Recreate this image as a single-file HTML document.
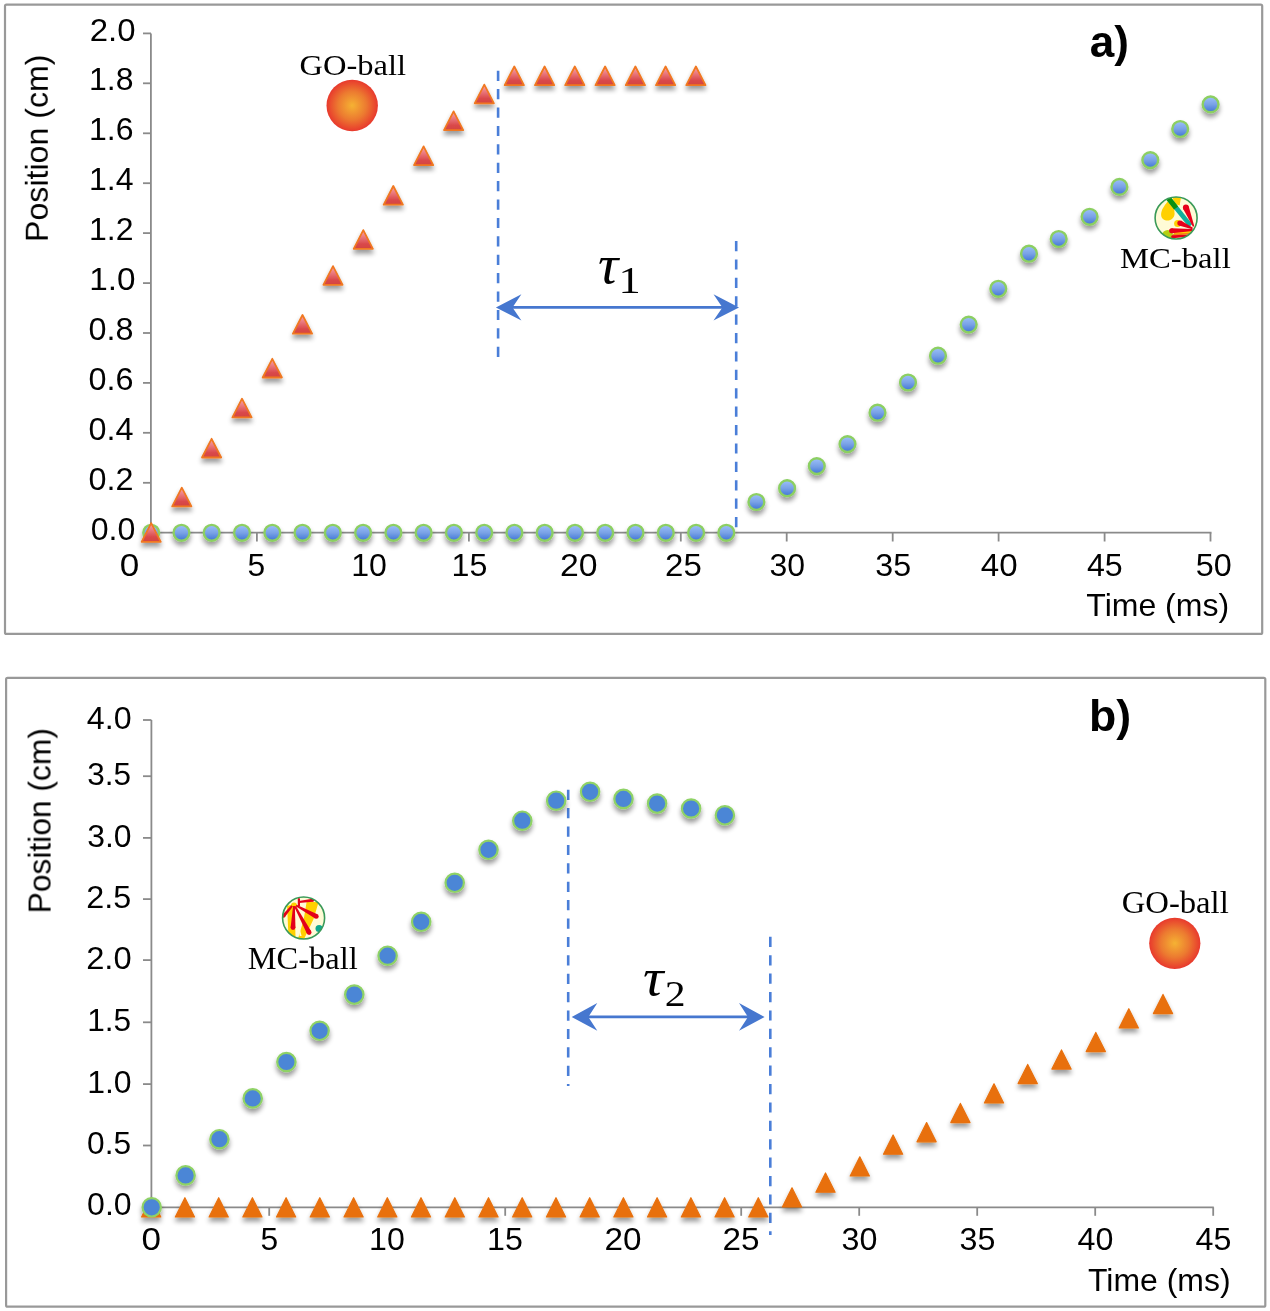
<!DOCTYPE html>
<html><head><meta charset="utf-8"><style>
html,body{margin:0;padding:0;background:#fff;}
body{width:1270px;height:1311px;overflow:hidden;}
svg{display:block;}
.sans{font-family:"Liberation Sans",sans-serif;}
.serif{font-family:"Liberation Serif",serif;}
</style></head><body>
<svg width="1270" height="1311" viewBox="0 0 1270 1311">
<defs>
<linearGradient id="triA" x1="0" y1="0" x2="0" y2="1">
<stop offset="0.15" stop-color="#f4949c"/><stop offset="0.75" stop-color="#d9484a"/><stop offset="1" stop-color="#d4443f"/>
</linearGradient>
<linearGradient id="cirA" x1="0" y1="0" x2="0" y2="1">
<stop offset="0" stop-color="#9dc0fb"/><stop offset="0.5" stop-color="#79a2e6"/><stop offset="1" stop-color="#3f74d6"/>
</linearGradient>
<radialGradient id="goball" cx="0.5" cy="0.5" r="0.5">
<stop offset="0" stop-color="#f5b233"/><stop offset="0.55" stop-color="#ec7a30"/><stop offset="1" stop-color="#e8392d"/>
</radialGradient>
<filter id="sh" x="-50%" y="-50%" width="200%" height="220%">
<feGaussianBlur in="SourceAlpha" stdDeviation="2.6"/>
<feOffset dx="0" dy="4" result="b"/>
<feComponentTransfer><feFuncA type="linear" slope="0.4"/></feComponentTransfer>
<feMerge><feMergeNode/><feMergeNode in="SourceGraphic"/></feMerge>
</filter>
<clipPath id="mcc"><circle cx="26" cy="26" r="21"/></clipPath>
</defs>
<rect width="1270" height="1311" fill="#fff"/>

<rect x="5" y="4.6" width="1257.2" height="629.3" rx="1.5" fill="none" stroke="#999" stroke-width="2.2"/>
<rect x="6.1" y="677.8" width="1259.2" height="628.9" rx="1.5" fill="none" stroke="#999" stroke-width="2.2"/>
<g stroke="#8a8a8a" stroke-width="1.8" fill="none">
<line x1="150.9" y1="33.4" x2="150.9" y2="533.4"/>
<line x1="143" y1="33.4" x2="151" y2="33.4"/>
<line x1="143" y1="83.3" x2="151" y2="83.3"/>
<line x1="143" y1="133.3" x2="151" y2="133.3"/>
<line x1="143" y1="183.2" x2="151" y2="183.2"/>
<line x1="143" y1="233.1" x2="151" y2="233.1"/>
<line x1="143" y1="283.1" x2="151" y2="283.1"/>
<line x1="143" y1="333.0" x2="151" y2="333.0"/>
<line x1="143" y1="382.9" x2="151" y2="382.9"/>
<line x1="143" y1="432.8" x2="151" y2="432.8"/>
<line x1="143" y1="482.8" x2="151" y2="482.8"/>
<line x1="143" y1="532.7" x2="151" y2="532.7"/>
<line x1="150" y1="532.7" x2="1211.5" y2="532.7"/>
<line x1="256.9" y1="532.7" x2="256.9" y2="541.5"/>
<line x1="362.9" y1="532.7" x2="362.9" y2="541.5"/>
<line x1="468.9" y1="532.7" x2="468.9" y2="541.5"/>
<line x1="574.8" y1="532.7" x2="574.8" y2="541.5"/>
<line x1="680.8" y1="532.7" x2="680.8" y2="541.5"/>
<line x1="786.7" y1="532.7" x2="786.7" y2="541.5"/>
<line x1="892.7" y1="532.7" x2="892.7" y2="541.5"/>
<line x1="998.6" y1="532.7" x2="998.6" y2="541.5"/>
<line x1="1104.6" y1="532.7" x2="1104.6" y2="541.5"/>
<line x1="1210.5" y1="532.7" x2="1210.5" y2="541.5"/>
</g>
<g stroke="#8a8a8a" stroke-width="1.8" fill="none">
<line x1="151.4" y1="720" x2="151.4" y2="1207.2"/>
<line x1="143" y1="720.0" x2="151.4" y2="720.0"/>
<line x1="143" y1="776.2" x2="151.4" y2="776.2"/>
<line x1="143" y1="837.9" x2="151.4" y2="837.9"/>
<line x1="143" y1="899.1" x2="151.4" y2="899.1"/>
<line x1="143" y1="960.1" x2="151.4" y2="960.1"/>
<line x1="143" y1="1022.3" x2="151.4" y2="1022.3"/>
<line x1="143" y1="1084.1" x2="151.4" y2="1084.1"/>
<line x1="143" y1="1145.5" x2="151.4" y2="1145.5"/>
<line x1="143" y1="1207.0" x2="151.4" y2="1207.0"/>
<line x1="150.6" y1="1207.3" x2="1213.8" y2="1207.3"/>
<line x1="269.2" y1="1207.3" x2="269.2" y2="1215.8"/>
<line x1="387.2" y1="1207.3" x2="387.2" y2="1215.8"/>
<line x1="505.2" y1="1207.3" x2="505.2" y2="1215.8"/>
<line x1="623.2" y1="1207.3" x2="623.2" y2="1215.8"/>
<line x1="741.2" y1="1207.3" x2="741.2" y2="1215.8"/>
<line x1="859.2" y1="1207.3" x2="859.2" y2="1215.8"/>
<line x1="977.2" y1="1207.3" x2="977.2" y2="1215.8"/>
<line x1="1095.2" y1="1207.3" x2="1095.2" y2="1215.8"/>
<line x1="1213.2" y1="1207.3" x2="1213.2" y2="1215.8"/>
</g>
<g style="opacity:0.999">
<text class="sans" transform="matrix(1.0625,0,0,0.9818,89.67,40.50)" style="font-size:31px;">2.0</text>
<text class="sans" transform="matrix(1.0325,0,0,0.9818,89.03,90.43)" style="font-size:31px;">1.8</text>
<text class="sans" transform="matrix(1.0325,0,0,0.9818,89.03,140.36)" style="font-size:31px;">1.6</text>
<text class="sans" transform="matrix(1.0325,0,0,0.9818,89.03,190.29)" style="font-size:31px;">1.4</text>
<text class="sans" transform="matrix(1.0325,0,0,0.9818,89.03,240.22)" style="font-size:31px;">1.2</text>
<text class="sans" transform="matrix(1.0750,0,0,0.9818,89.15,290.15)" style="font-size:31px;">1.0</text>
<text class="sans" transform="matrix(1.0439,0,0,0.9818,88.56,340.08)" style="font-size:31px;">0.8</text>
<text class="sans" transform="matrix(1.0439,0,0,0.9818,88.56,390.01)" style="font-size:31px;">0.6</text>
<text class="sans" transform="matrix(1.0439,0,0,0.9818,88.56,439.94)" style="font-size:31px;">0.4</text>
<text class="sans" transform="matrix(1.0439,0,0,0.9818,88.56,489.87)" style="font-size:31px;">0.2</text>
<text class="sans" transform="matrix(1.0366,0,0,0.9818,90.76,539.80)" style="font-size:31px;">0.0</text>
<text class="sans" transform="matrix(1.1333,0,0,1.0000,119.87,575.90)" style="font-size:31px;">0</text>
<text class="sans" transform="matrix(1.0267,0,0,1.0000,247.57,575.90)" style="font-size:31px;">5</text>
<text class="sans" transform="matrix(1.0355,0,0,1.0000,351.23,575.90)" style="font-size:31px;">10</text>
<text class="sans" transform="matrix(1.0387,0,0,1.0000,451.52,575.90)" style="font-size:31px;">15</text>
<text class="sans" transform="matrix(1.0903,0,0,1.0000,559.92,575.90)" style="font-size:31px;">20</text>
<text class="sans" transform="matrix(1.0645,0,0,1.0000,665.07,575.90)" style="font-size:31px;">25</text>
<text class="sans" transform="matrix(1.0312,0,0,1.0000,769.47,575.90)" style="font-size:31px;">30</text>
<text class="sans" transform="matrix(1.0406,0,0,1.0000,875.36,575.90)" style="font-size:31px;">35</text>
<text class="sans" transform="matrix(1.0688,0,0,1.0000,980.73,575.90)" style="font-size:31px;">40</text>
<text class="sans" transform="matrix(1.0375,0,0,1.0000,1086.96,575.90)" style="font-size:31px;">45</text>
<text class="sans" transform="matrix(1.0437,0,0,1.0000,1195.86,575.90)" style="font-size:31px;">50</text>
<text class="sans" transform="matrix(1.0331,0,0,1.0033,1086.27,615.68)" style="font-size:31px;">Time (ms)</text>
<text class="sans" transform="translate(48.28,242.01) rotate(-90) scale(1.0369,1.0167)" style="font-size:31px;">Position (cm)</text>
<text class="sans" transform="matrix(0.9579,0,0,0.9568,1089.64,56.53)" style="font-size:46px;font-weight:bold">a)</text>
<text class="serif" transform="matrix(1.0324,0,0,0.9565,299.57,74.80)" style="font-size:31.5px;">GO-ball</text>
<text class="serif" transform="matrix(1.0381,0,0,0.9478,1119.96,268.00)" style="font-size:31.5px;">MC-ball</text>
<text class="serif" transform="matrix(1.0500,0,0,1.0192,597.95,282.98)" style="font-size:54px;font-style:italic">&#964;</text>
<text class="serif" transform="matrix(1.2000,0,0,1.0120,618.40,292.70)" style="font-size:37px;">1</text>
<text class="sans" transform="matrix(1.0390,0,0,1.0409,86.86,728.60)" style="font-size:31px;">4.0</text>
<text class="sans" transform="matrix(1.0171,0,0,1.0409,87.28,784.80)" style="font-size:31px;">3.5</text>
<text class="sans" transform="matrix(1.0293,0,0,1.0409,87.27,846.50)" style="font-size:31px;">3.0</text>
<text class="sans" transform="matrix(1.0425,0,0,1.0409,86.22,907.70)" style="font-size:31px;">2.5</text>
<text class="sans" transform="matrix(1.0550,0,0,1.0409,86.19,968.70)" style="font-size:31px;">2.0</text>
<text class="sans" transform="matrix(1.0200,0,0,1.0409,87.16,1030.90)" style="font-size:31px;">1.5</text>
<text class="sans" transform="matrix(1.0325,0,0,1.0409,87.14,1092.70)" style="font-size:31px;">1.0</text>
<text class="sans" transform="matrix(1.0220,0,0,1.0409,87.08,1154.10)" style="font-size:31px;">0.5</text>
<text class="sans" transform="matrix(1.0341,0,0,1.0409,87.07,1215.20)" style="font-size:31px;">0.0</text>
<text class="sans" transform="matrix(1.1333,0,0,1.0000,141.57,1250.00)" style="font-size:31px;">0</text>
<text class="sans" transform="matrix(1.0267,0,0,1.0000,260.47,1250.00)" style="font-size:31px;">5</text>
<text class="sans" transform="matrix(1.0355,0,0,1.0000,369.08,1250.00)" style="font-size:31px;">10</text>
<text class="sans" transform="matrix(1.0387,0,0,1.0000,487.02,1250.00)" style="font-size:31px;">15</text>
<text class="sans" transform="matrix(1.0742,0,0,1.0000,604.40,1250.00)" style="font-size:31px;">20</text>
<text class="sans" transform="matrix(1.0742,0,0,1.0000,722.40,1250.00)" style="font-size:31px;">25</text>
<text class="sans" transform="matrix(1.0406,0,0,1.0000,841.51,1250.00)" style="font-size:31px;">30</text>
<text class="sans" transform="matrix(1.0406,0,0,1.0000,959.51,1250.00)" style="font-size:31px;">35</text>
<text class="sans" transform="matrix(1.0406,0,0,1.0000,1077.51,1250.00)" style="font-size:31px;">40</text>
<text class="sans" transform="matrix(1.0406,0,0,1.0000,1195.51,1250.00)" style="font-size:31px;">45</text>
<text class="sans" transform="matrix(1.0316,0,0,0.9833,1087.97,1290.62)" style="font-size:31px;">Time (ms)</text>
<text class="sans" transform="translate(50.68,913.37) rotate(-90) scale(1.0244,1.0033)" style="font-size:31px;">Position (cm)</text>
<text class="sans" transform="matrix(0.9711,0,0,0.9773,1089.09,731.43)" style="font-size:46px;font-weight:bold">b)</text>
<text class="serif" transform="matrix(1.0382,0,0,1.0130,1121.66,913.50)" style="font-size:31.5px;">GO-ball</text>
<text class="serif" transform="matrix(1.0305,0,0,0.9696,247.77,969.30)" style="font-size:31.5px;">MC-ball</text>
<text class="serif" transform="matrix(1.0600,0,0,0.9846,642.94,994.82)" style="font-size:54px;font-style:italic">&#964;</text>
<text class="serif" transform="matrix(1.1267,0,0,0.9840,664.75,1005.60)" style="font-size:37px;">2</text>
</g>
<line x1="498.1" y1="70.7" x2="498.1" y2="363.5" stroke="#4a7ed8" stroke-width="2.6" stroke-dasharray="10.2 8.2"/>
<line x1="736.2" y1="241" x2="736.2" y2="533" stroke="#4a7ed8" stroke-width="2.6" stroke-dasharray="10.2 8.2"/>
<line x1="568.2" y1="789.7" x2="568.2" y2="1086" stroke="#4a7ed8" stroke-width="2.6" stroke-dasharray="10.2 8.2"/>
<line x1="770.3" y1="936.8" x2="770.3" y2="1235" stroke="#4a7ed8" stroke-width="2.6" stroke-dasharray="10.2 8.2"/>
<line x1="507.9" y1="307.4" x2="727" y2="307.4" stroke="#4677cf" stroke-width="2.8"/>
<path d="M495.9,307.4 L521.4,294.29999999999995 L512.475,307.4 L521.4,320.5 Z" fill="#4677cf"/>
<path d="M739,307.4 L713.5,294.29999999999995 L722.425,307.4 L713.5,320.5 Z" fill="#4677cf"/>
<line x1="583.7" y1="1016.9" x2="752.6" y2="1016.9" stroke="#4677cf" stroke-width="2.8"/>
<path d="M571.7,1016.9 L597.3000000000001,1003.1 L588.34,1016.9 L597.3000000000001,1030.7 Z" fill="#4677cf"/>
<path d="M764.6,1016.9 L739.0,1003.1 L747.96,1016.9 L739.0,1030.7 Z" fill="#4677cf"/>
<circle cx="352.2" cy="105.5" r="25.7" fill="url(#goball)"/>
<circle cx="1174.8" cy="943.3" r="25.6" fill="url(#goball)"/>
<g transform="translate(1150.10,192.00)">
<circle cx="26" cy="26" r="21" fill="#fffbd6"/>
<g clip-path="url(#mcc)">
<path d="M17.5,9.5 C14,14 11,18 11,22.5 C11,26.5 14,28.5 17.5,28.5 C21,28.5 24,26 24.5,22 L24,16 Z" fill="#ffd000"/>
<path d="M22,5 L31,5 L29.5,13.5 L25,12 Z" fill="#ffd000"/>
<circle cx="17.5" cy="43.5" r="5.5" fill="#b5cf12"/>
<path d="M16.5,8 L20.5,5 L42,32 L39,35.5 Z" fill="#12ae9c"/>
<path d="M16.5,8 L20.5,5 L28,14.5 L24,17.5 Z" fill="#0a9010"/>
<path d="M44.20,34.22 L38.58,14.37 L33.02,16.63 L42.80,34.78 Z" fill="#e8001a"/>
<circle cx="35.80" cy="15.50" r="3.00" fill="#e8001a"/>
<circle cx="27.5" cy="31.5" r="3.5" fill="#ffd000"/>
<path d="M42.80,35.81 L30.83,28.61 L28.77,33.39 L42.20,37.19 Z" fill="#e8001a"/>
<circle cx="29.80" cy="31.00" r="2.60" fill="#e8001a"/>
<path d="M42,37 L24,40 L24,43 L40,41.5 Z" fill="#ffd000"/>
<path d="M42.46,37.00 L21.40,36.30 L21.60,41.30 L42.54,39.00 Z" fill="#e8001a"/>
<circle cx="21.50" cy="38.80" r="2.50" fill="#e8001a"/>
<path d="M40.96,40.75 L23.94,41.40 L24.06,43.60 L41.04,42.25 Z" fill="#f08a10"/>
<circle cx="24.00" cy="42.50" r="1.10" fill="#f08a10"/>
<path d="M39.93,42.50 L22.39,43.30 L22.61,46.30 L40.07,44.50 Z" fill="#e8001a"/>
<circle cx="22.50" cy="44.80" r="1.50" fill="#e8001a"/>
<path d="M36,32 L42.5,36 L40,34.5 Z" fill="#202020"/>
</g>
<circle cx="26" cy="26" r="21" fill="none" stroke="#3a9a58" stroke-width="1.6"/>
</g>
<g transform="translate(277.6,892)">
<circle cx="26" cy="26" r="21" fill="#fffbd6"/>
<g clip-path="url(#mcc)">
<path d="M29,10 L41,10 L36,27 L26,48 L20,48 L26,28 Z" fill="#ffd000"/>
<path d="M9.5,14 L17,12 L18,48 L11,48 Z" fill="#ffd000"/>
<circle cx="16.4" cy="13.5" r="3" fill="#ffd000"/>
<path d="M19,25 L22,44 L24,44 Z" fill="#fffbd6"/>
<path d="M15.50,13.96 L13.00,35.49 L17.80,35.71 L17.30,14.04 Z" fill="#e3001a"/>
<circle cx="15.40" cy="35.60" r="2.40" fill="#e3001a"/>
<path d="M16.71,14.93 L29.39,41.64 L33.61,39.36 L18.29,14.07 Z" fill="#e3001a"/>
<circle cx="31.50" cy="40.50" r="2.40" fill="#e3001a"/>
<path d="M18.07,14.29 L37.56,26.51 L39.84,22.29 L18.93,12.71 Z" fill="#e3001a"/>
<circle cx="38.70" cy="24.40" r="2.40" fill="#e3001a"/>
<path d="M22.40,14.00 L22.40,7.00 L20.20,7.00 L20.20,14.00 Z" fill="#e3001a"/>
<circle cx="21.30" cy="7.00" r="1.10" fill="#e3001a"/>
<path d="M21.43,10.99 L35.20,9.69 L34.80,6.71 L21.17,9.01 Z" fill="#e3001a"/>
<circle cx="35.00" cy="8.20" r="1.50" fill="#e3001a"/>
<path d="M13.73,13.16 L4.66,22.88 L7.34,25.12 L15.27,14.44 Z" fill="#e3001a"/>
<circle cx="6.00" cy="24.00" r="1.75" fill="#e3001a"/>
<circle cx="41.5" cy="36.5" r="3.6" fill="#10a890"/>
</g>
<circle cx="26" cy="26" r="21" fill="none" stroke="#3a9a58" stroke-width="1.6"/>
</g>
<g filter="url(#sh)">
<circle cx="151.2" cy="532.8" r="7.9" fill="url(#cirA)" stroke="#8ccf62" stroke-width="2.4"/>
<circle cx="181.5" cy="532.8" r="7.9" fill="url(#cirA)" stroke="#8ccf62" stroke-width="2.4"/>
<circle cx="211.7" cy="532.8" r="7.9" fill="url(#cirA)" stroke="#8ccf62" stroke-width="2.4"/>
<circle cx="242.0" cy="532.8" r="7.9" fill="url(#cirA)" stroke="#8ccf62" stroke-width="2.4"/>
<circle cx="272.3" cy="532.8" r="7.9" fill="url(#cirA)" stroke="#8ccf62" stroke-width="2.4"/>
<circle cx="302.5" cy="532.8" r="7.9" fill="url(#cirA)" stroke="#8ccf62" stroke-width="2.4"/>
<circle cx="332.8" cy="532.8" r="7.9" fill="url(#cirA)" stroke="#8ccf62" stroke-width="2.4"/>
<circle cx="363.1" cy="532.8" r="7.9" fill="url(#cirA)" stroke="#8ccf62" stroke-width="2.4"/>
<circle cx="393.4" cy="532.8" r="7.9" fill="url(#cirA)" stroke="#8ccf62" stroke-width="2.4"/>
<circle cx="423.6" cy="532.8" r="7.9" fill="url(#cirA)" stroke="#8ccf62" stroke-width="2.4"/>
<circle cx="453.9" cy="532.8" r="7.9" fill="url(#cirA)" stroke="#8ccf62" stroke-width="2.4"/>
<circle cx="484.2" cy="532.8" r="7.9" fill="url(#cirA)" stroke="#8ccf62" stroke-width="2.4"/>
<circle cx="514.4" cy="532.8" r="7.9" fill="url(#cirA)" stroke="#8ccf62" stroke-width="2.4"/>
<circle cx="544.7" cy="532.8" r="7.9" fill="url(#cirA)" stroke="#8ccf62" stroke-width="2.4"/>
<circle cx="575.0" cy="532.8" r="7.9" fill="url(#cirA)" stroke="#8ccf62" stroke-width="2.4"/>
<circle cx="605.2" cy="532.8" r="7.9" fill="url(#cirA)" stroke="#8ccf62" stroke-width="2.4"/>
<circle cx="635.5" cy="532.8" r="7.9" fill="url(#cirA)" stroke="#8ccf62" stroke-width="2.4"/>
<circle cx="665.8" cy="532.8" r="7.9" fill="url(#cirA)" stroke="#8ccf62" stroke-width="2.4"/>
<circle cx="696.1" cy="532.8" r="7.9" fill="url(#cirA)" stroke="#8ccf62" stroke-width="2.4"/>
<circle cx="726.3" cy="532.8" r="7.9" fill="url(#cirA)" stroke="#8ccf62" stroke-width="2.4"/>
<circle cx="756.4" cy="502.0" r="7.9" fill="url(#cirA)" stroke="#8ccf62" stroke-width="2.4"/>
<circle cx="787.1" cy="488.2" r="7.9" fill="url(#cirA)" stroke="#8ccf62" stroke-width="2.4"/>
<circle cx="816.8" cy="466.1" r="7.9" fill="url(#cirA)" stroke="#8ccf62" stroke-width="2.4"/>
<circle cx="847.5" cy="444.1" r="7.9" fill="url(#cirA)" stroke="#8ccf62" stroke-width="2.4"/>
<circle cx="877.5" cy="412.7" r="7.9" fill="url(#cirA)" stroke="#8ccf62" stroke-width="2.4"/>
<circle cx="908.0" cy="382.5" r="7.9" fill="url(#cirA)" stroke="#8ccf62" stroke-width="2.4"/>
<circle cx="938.0" cy="355.7" r="7.9" fill="url(#cirA)" stroke="#8ccf62" stroke-width="2.4"/>
<circle cx="968.7" cy="324.6" r="7.9" fill="url(#cirA)" stroke="#8ccf62" stroke-width="2.4"/>
<circle cx="998.3" cy="288.8" r="7.9" fill="url(#cirA)" stroke="#8ccf62" stroke-width="2.4"/>
<circle cx="1029.0" cy="253.7" r="7.9" fill="url(#cirA)" stroke="#8ccf62" stroke-width="2.4"/>
<circle cx="1058.7" cy="239.0" r="7.9" fill="url(#cirA)" stroke="#8ccf62" stroke-width="2.4"/>
<circle cx="1089.6" cy="216.8" r="7.9" fill="url(#cirA)" stroke="#8ccf62" stroke-width="2.4"/>
<circle cx="1119.4" cy="186.9" r="7.9" fill="url(#cirA)" stroke="#8ccf62" stroke-width="2.4"/>
<circle cx="1150.3" cy="160.1" r="7.9" fill="url(#cirA)" stroke="#8ccf62" stroke-width="2.4"/>
<circle cx="1180.2" cy="129.0" r="7.9" fill="url(#cirA)" stroke="#8ccf62" stroke-width="2.4"/>
<circle cx="1210.6" cy="104.4" r="7.9" fill="url(#cirA)" stroke="#8ccf62" stroke-width="2.4"/>
<path d="M151.2,523.1 L160.8,541.8 L141.6,541.8 Z" fill="url(#triA)" stroke="#f07820" stroke-width="1.8" stroke-linejoin="round"/>
<path d="M181.8,487.7 L191.4,506.4 L172.2,506.4 Z" fill="url(#triA)" stroke="#f07820" stroke-width="1.8" stroke-linejoin="round"/>
<path d="M211.6,438.8 L221.2,457.5 L202.0,457.5 Z" fill="url(#triA)" stroke="#f07820" stroke-width="1.8" stroke-linejoin="round"/>
<path d="M242.0,398.7 L251.6,417.4 L232.4,417.4 Z" fill="url(#triA)" stroke="#f07820" stroke-width="1.8" stroke-linejoin="round"/>
<path d="M272.3,358.8 L281.9,377.5 L262.7,377.5 Z" fill="url(#triA)" stroke="#f07820" stroke-width="1.8" stroke-linejoin="round"/>
<path d="M302.5,315.0 L312.1,333.7 L292.9,333.7 Z" fill="url(#triA)" stroke="#f07820" stroke-width="1.8" stroke-linejoin="round"/>
<path d="M333.0,266.1 L342.6,284.8 L323.4,284.8 Z" fill="url(#triA)" stroke="#f07820" stroke-width="1.8" stroke-linejoin="round"/>
<path d="M363.3,230.1 L372.9,248.8 L353.7,248.8 Z" fill="url(#triA)" stroke="#f07820" stroke-width="1.8" stroke-linejoin="round"/>
<path d="M393.3,186.0 L402.9,204.7 L383.7,204.7 Z" fill="url(#triA)" stroke="#f07820" stroke-width="1.8" stroke-linejoin="round"/>
<path d="M423.6,146.4 L433.2,165.1 L414.0,165.1 Z" fill="url(#triA)" stroke="#f07820" stroke-width="1.8" stroke-linejoin="round"/>
<path d="M453.6,111.4 L463.2,130.1 L444.0,130.1 Z" fill="url(#triA)" stroke="#f07820" stroke-width="1.8" stroke-linejoin="round"/>
<path d="M484.3,84.6 L493.9,103.3 L474.7,103.3 Z" fill="url(#triA)" stroke="#f07820" stroke-width="1.8" stroke-linejoin="round"/>
<path d="M514.3,66.5 L523.9,85.2 L504.7,85.2 Z" fill="url(#triA)" stroke="#f07820" stroke-width="1.8" stroke-linejoin="round"/>
<path d="M544.6,66.5 L554.2,85.2 L535.0,85.2 Z" fill="url(#triA)" stroke="#f07820" stroke-width="1.8" stroke-linejoin="round"/>
<path d="M574.8,66.5 L584.4,85.2 L565.2,85.2 Z" fill="url(#triA)" stroke="#f07820" stroke-width="1.8" stroke-linejoin="round"/>
<path d="M605.1,66.5 L614.7,85.2 L595.5,85.2 Z" fill="url(#triA)" stroke="#f07820" stroke-width="1.8" stroke-linejoin="round"/>
<path d="M635.4,66.5 L645.0,85.2 L625.8,85.2 Z" fill="url(#triA)" stroke="#f07820" stroke-width="1.8" stroke-linejoin="round"/>
<path d="M665.6,66.5 L675.2,85.2 L656.0,85.2 Z" fill="url(#triA)" stroke="#f07820" stroke-width="1.8" stroke-linejoin="round"/>
<path d="M695.9,66.5 L705.5,85.2 L686.3,85.2 Z" fill="url(#triA)" stroke="#f07820" stroke-width="1.8" stroke-linejoin="round"/>
</g>
<g filter="url(#sh)">
<path d="M151.2,1197.7 L160.8,1216.9 L141.6,1216.9 Z" fill="#e8700c" stroke="#e8700c" stroke-width="1.2" stroke-linejoin="round"/>
<path d="M184.9,1197.7 L194.5,1216.9 L175.3,1216.9 Z" fill="#e8700c" stroke="#e8700c" stroke-width="1.2" stroke-linejoin="round"/>
<path d="M218.7,1197.7 L228.3,1216.9 L209.1,1216.9 Z" fill="#e8700c" stroke="#e8700c" stroke-width="1.2" stroke-linejoin="round"/>
<path d="M252.4,1197.7 L262.0,1216.9 L242.8,1216.9 Z" fill="#e8700c" stroke="#e8700c" stroke-width="1.2" stroke-linejoin="round"/>
<path d="M286.1,1197.7 L295.7,1216.9 L276.5,1216.9 Z" fill="#e8700c" stroke="#e8700c" stroke-width="1.2" stroke-linejoin="round"/>
<path d="M319.8,1197.7 L329.4,1216.9 L310.2,1216.9 Z" fill="#e8700c" stroke="#e8700c" stroke-width="1.2" stroke-linejoin="round"/>
<path d="M353.6,1197.7 L363.2,1216.9 L344.0,1216.9 Z" fill="#e8700c" stroke="#e8700c" stroke-width="1.2" stroke-linejoin="round"/>
<path d="M387.3,1197.7 L396.9,1216.9 L377.7,1216.9 Z" fill="#e8700c" stroke="#e8700c" stroke-width="1.2" stroke-linejoin="round"/>
<path d="M421.0,1197.7 L430.6,1216.9 L411.4,1216.9 Z" fill="#e8700c" stroke="#e8700c" stroke-width="1.2" stroke-linejoin="round"/>
<path d="M454.8,1197.7 L464.4,1216.9 L445.2,1216.9 Z" fill="#e8700c" stroke="#e8700c" stroke-width="1.2" stroke-linejoin="round"/>
<path d="M488.5,1197.7 L498.1,1216.9 L478.9,1216.9 Z" fill="#e8700c" stroke="#e8700c" stroke-width="1.2" stroke-linejoin="round"/>
<path d="M522.2,1197.7 L531.8,1216.9 L512.6,1216.9 Z" fill="#e8700c" stroke="#e8700c" stroke-width="1.2" stroke-linejoin="round"/>
<path d="M556.0,1197.7 L565.6,1216.9 L546.4,1216.9 Z" fill="#e8700c" stroke="#e8700c" stroke-width="1.2" stroke-linejoin="round"/>
<path d="M589.7,1197.7 L599.3,1216.9 L580.1,1216.9 Z" fill="#e8700c" stroke="#e8700c" stroke-width="1.2" stroke-linejoin="round"/>
<path d="M623.4,1197.7 L633.0,1216.9 L613.8,1216.9 Z" fill="#e8700c" stroke="#e8700c" stroke-width="1.2" stroke-linejoin="round"/>
<path d="M657.1,1197.7 L666.7,1216.9 L647.5,1216.9 Z" fill="#e8700c" stroke="#e8700c" stroke-width="1.2" stroke-linejoin="round"/>
<path d="M690.9,1197.7 L700.5,1216.9 L681.3,1216.9 Z" fill="#e8700c" stroke="#e8700c" stroke-width="1.2" stroke-linejoin="round"/>
<path d="M724.6,1197.7 L734.2,1216.9 L715.0,1216.9 Z" fill="#e8700c" stroke="#e8700c" stroke-width="1.2" stroke-linejoin="round"/>
<path d="M758.3,1197.7 L767.9,1216.9 L748.7,1216.9 Z" fill="#e8700c" stroke="#e8700c" stroke-width="1.2" stroke-linejoin="round"/>
<path d="M792.0,1187.8 L801.6,1207.0 L782.4,1207.0 Z" fill="#e8700c" stroke="#e8700c" stroke-width="1.2" stroke-linejoin="round"/>
<path d="M825.5,1173.0 L835.1,1192.2 L815.9,1192.2 Z" fill="#e8700c" stroke="#e8700c" stroke-width="1.2" stroke-linejoin="round"/>
<path d="M859.8,1156.8 L869.4,1176.0 L850.2,1176.0 Z" fill="#e8700c" stroke="#e8700c" stroke-width="1.2" stroke-linejoin="round"/>
<path d="M893.1,1135.0 L902.7,1154.2 L883.5,1154.2 Z" fill="#e8700c" stroke="#e8700c" stroke-width="1.2" stroke-linejoin="round"/>
<path d="M926.6,1122.6 L936.2,1141.8 L917.0,1141.8 Z" fill="#e8700c" stroke="#e8700c" stroke-width="1.2" stroke-linejoin="round"/>
<path d="M960.4,1103.4 L970.0,1122.6 L950.8,1122.6 Z" fill="#e8700c" stroke="#e8700c" stroke-width="1.2" stroke-linejoin="round"/>
<path d="M994.0,1083.8 L1003.6,1103.0 L984.4,1103.0 Z" fill="#e8700c" stroke="#e8700c" stroke-width="1.2" stroke-linejoin="round"/>
<path d="M1027.7,1064.4 L1037.3,1083.6 L1018.1,1083.6 Z" fill="#e8700c" stroke="#e8700c" stroke-width="1.2" stroke-linejoin="round"/>
<path d="M1061.5,1049.9 L1071.1,1069.1 L1051.9,1069.1 Z" fill="#e8700c" stroke="#e8700c" stroke-width="1.2" stroke-linejoin="round"/>
<path d="M1095.8,1032.4 L1105.4,1051.6 L1086.2,1051.6 Z" fill="#e8700c" stroke="#e8700c" stroke-width="1.2" stroke-linejoin="round"/>
<path d="M1128.8,1008.7 L1138.4,1027.9 L1119.2,1027.9 Z" fill="#e8700c" stroke="#e8700c" stroke-width="1.2" stroke-linejoin="round"/>
<path d="M1163.0,994.4 L1172.6,1013.6 L1153.4,1013.6 Z" fill="#e8700c" stroke="#e8700c" stroke-width="1.2" stroke-linejoin="round"/>
<circle cx="151.7" cy="1207.3" r="9.2" fill="#4b86d6" stroke="#8fd266" stroke-width="2.2"/>
<circle cx="185.6" cy="1175.4" r="9.2" fill="#4b86d6" stroke="#8fd266" stroke-width="2.2"/>
<circle cx="219.4" cy="1139.2" r="9.2" fill="#4b86d6" stroke="#8fd266" stroke-width="2.2"/>
<circle cx="252.7" cy="1098.4" r="9.2" fill="#4b86d6" stroke="#8fd266" stroke-width="2.2"/>
<circle cx="286.4" cy="1062.0" r="9.2" fill="#4b86d6" stroke="#8fd266" stroke-width="2.2"/>
<circle cx="319.6" cy="1030.8" r="9.2" fill="#4b86d6" stroke="#8fd266" stroke-width="2.2"/>
<circle cx="354.3" cy="994.6" r="9.2" fill="#4b86d6" stroke="#8fd266" stroke-width="2.2"/>
<circle cx="387.6" cy="955.7" r="9.2" fill="#4b86d6" stroke="#8fd266" stroke-width="2.2"/>
<circle cx="421.2" cy="921.8" r="9.2" fill="#4b86d6" stroke="#8fd266" stroke-width="2.2"/>
<circle cx="454.7" cy="882.8" r="9.2" fill="#4b86d6" stroke="#8fd266" stroke-width="2.2"/>
<circle cx="488.5" cy="849.8" r="9.2" fill="#4b86d6" stroke="#8fd266" stroke-width="2.2"/>
<circle cx="522.3" cy="820.7" r="9.2" fill="#4b86d6" stroke="#8fd266" stroke-width="2.2"/>
<circle cx="556.2" cy="800.7" r="9.2" fill="#4b86d6" stroke="#8fd266" stroke-width="2.2"/>
<circle cx="590.1" cy="791.8" r="9.2" fill="#4b86d6" stroke="#8fd266" stroke-width="2.2"/>
<circle cx="623.5" cy="798.9" r="9.2" fill="#4b86d6" stroke="#8fd266" stroke-width="2.2"/>
<circle cx="657.1" cy="803.6" r="9.2" fill="#4b86d6" stroke="#8fd266" stroke-width="2.2"/>
<circle cx="691.1" cy="808.5" r="9.2" fill="#4b86d6" stroke="#8fd266" stroke-width="2.2"/>
<circle cx="724.9" cy="815.3" r="9.2" fill="#4b86d6" stroke="#8fd266" stroke-width="2.2"/>
</g>
</svg></body></html>
